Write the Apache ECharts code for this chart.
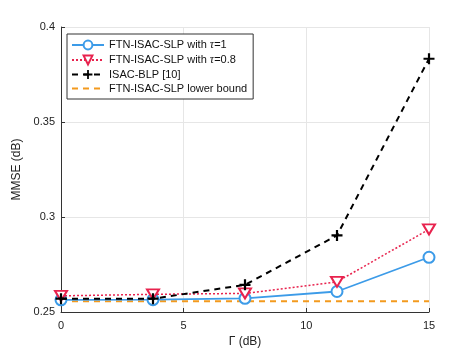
<!DOCTYPE html>
<html><head><meta charset="utf-8">
<script src="https://cdn.jsdelivr.net/npm/echarts@6/dist/echarts.min.js"></script>
<style>html,body{margin:0;padding:0;background:#fff}#c{width:474px;height:353px}</style>
</head><body><div id="c"></div>
<script>
const gammaDB = [0, 3.75, 7.5, 11.25, 15];
const tau1 = [0.2564, 0.2565, 0.2572, 0.2608, 0.2788];
const tau08 = [0.2585, 0.2593, 0.2598, 0.2659, 0.2935];
const isacBLP = [0.2570, 0.2570, 0.2643, 0.2903, 0.3833];
const lowerBound = [0.2556, 0.2556, 0.2556, 0.2556, 0.2556];
const names = ['FTN-ISAC-SLP with τ=1', 'FTN-ISAC-SLP with τ=0.8', 'ISAC-BLP [10]', 'FTN-ISAC-SLP lower bound'];

const pair = arr => gammaDB.map((x, i) => [x, arr[i]]);
const plus = 'path://M4,0H6V4H10V6H6V10H4V6H0V4H4Z';
const font = 'Liberation Sans, Arial, sans-serif';
const chart = echarts.init(document.getElementById('c'));
chart.setOption({
  animation: false,
  grid: {left: 61, right: 45, top: 27, bottom: 40},
  legend: {
    left: 67, top: 34, orient: 'vertical', itemGap: 3, itemWidth: 32, itemHeight: 11,
    backgroundColor: '#fff', borderColor: '#333', borderWidth: 1, padding: [5, 6, 5, 4],
    textStyle: {fontFamily: font, fontSize: 11, color: '#111', rich: {
      a: {fontFamily: font, fontSize: 11, color: '#111'},
      t: {fontFamily: 'Liberation Serif, serif', fontStyle: 'italic', fontSize: 12, color: '#111'}
    }},
    formatter: n => {
      const m = n.match(/^(.*)τ(.*)$/);
      return m ? `{a|${m[1]}}{t|τ}{a|${m[2]}}` : `{a|${n}}`;
    },
    data: [names[0], names[1], names[2], {name: names[3], itemStyle: {opacity: 0}}]
  },
  xAxis: {
    type: 'value', min: 0, max: 15, interval: 5,
    name: 'Γ (dB)', nameLocation: 'middle', nameGap: 24,
    nameTextStyle: {fontFamily: font, fontSize: 12, color: '#222'},
    axisLine: {lineStyle: {color: '#333'}},
    axisTick: {inside: true, length: 4, lineStyle: {color: '#333'}},
    axisLabel: {fontFamily: font, fontSize: 11, color: '#222', margin: 8},
    splitLine: {show: true, lineStyle: {color: '#e6e6e6'}}
  },
  yAxis: {
    type: 'value', min: 0.25, max: 0.4, interval: 0.05,
    name: 'MMSE (dB)', nameLocation: 'middle', nameGap: 31,
    nameTextStyle: {fontFamily: font, fontSize: 12, color: '#222'},
    axisLine: {show: true, lineStyle: {color: '#333'}},
    axisTick: {show: true, inside: true, length: 4, lineStyle: {color: '#333'}},
    axisLabel: {fontFamily: font, fontSize: 11, color: '#222', margin: 6},
    splitLine: {show: true, lineStyle: {color: '#e6e6e6'}}
  },
  series: [
    {name: names[3], type: 'line', data: pair(lowerBound), symbol: 'none',
     lineStyle: {color: '#F39A1E', width: 2, type: [6, 5]}, itemStyle: {color: '#F39A1E'}, z: 2},
    {name: names[2], type: 'line', data: pair(isacBLP), symbol: plus, symbolSize: 11,
     lineStyle: {color: '#000', width: 2, type: [6, 5]}, itemStyle: {color: '#000'}, z: 5},
    {name: names[1], type: 'line', data: pair(tau08), symbol: 'path://M0,0L10,0L5,9Z', symbolSize: [12, 10],
     lineStyle: {color: '#E8234E', width: 1.5, type: [2, 2]},
     itemStyle: {color: '#fff', borderColor: '#E8234E', borderWidth: 2}, z: 4},
    {name: names[0], type: 'line', data: pair(tau1), symbol: 'emptyCircle', symbolSize: 11,
     lineStyle: {color: '#3C9BE8', width: 1.8},
     itemStyle: {color: '#3C9BE8', borderColor: '#3C9BE8', borderWidth: 1.8}, z: 3}
  ]
});
</script></body></html>
